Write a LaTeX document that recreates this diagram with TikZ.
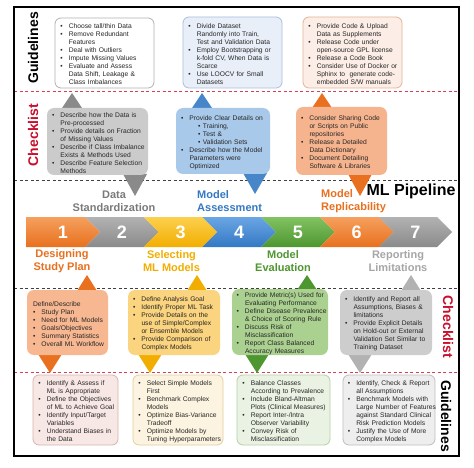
\documentclass[tikz,border=0pt]{standalone}
\usepackage{fontspec}
\setmainfont{Liberation Sans}
\definecolor{or1}{HTML}{F5A05E}\definecolor{or2}{HTML}{E8701E}
\definecolor{gr1}{HTML}{B2B2B2}\definecolor{gr2}{HTML}{8A8A8A}
\definecolor{ye1}{HTML}{FCD04E}\definecolor{ye2}{HTML}{F2AE00}
\definecolor{bl1}{HTML}{6AA6E4}\definecolor{bl2}{HTML}{3478C4}
\definecolor{gn1}{HTML}{82C262}\definecolor{gn2}{HTML}{4E9630}
\definecolor{ckred}{HTML}{C8102E}
\definecolor{txtc}{HTML}{262626}
\definecolor{g2f}{HTML}{E9EFF8}\definecolor{g2d}{HTML}{A9BFDD}
\definecolor{g3f}{HTML}{FCEEE6}\definecolor{g3d}{HTML}{E4B397}
\definecolor{h1f}{HTML}{F8E8E5}\definecolor{h1d}{HTML}{D8B4AD}
\definecolor{h2f}{HTML}{FCF4E0}\definecolor{h2d}{HTML}{E2CF9D}
\definecolor{h3f}{HTML}{EAF3E3}\definecolor{h3d}{HTML}{B5D0A2}
\definecolor{h4f}{HTML}{EEEEEE}\definecolor{h4d}{HTML}{BEBEBE}
\definecolor{c1f}{HTML}{CBCBCB}\definecolor{c2f}{HTML}{A9C9EA}\definecolor{c3f}{HTML}{F6B48E}
\definecolor{b1f}{HTML}{F7B791}\definecolor{b2f}{HTML}{FAD47E}\definecolor{b3f}{HTML}{ABD191}\definecolor{b4f}{HTML}{CDCDCD}
\newcommand\bul[1]{\par\noindent\hangindent=8.5pt\hangafter=1\makebox[8.5pt][l]{•}#1\par}
\newcommand\subbul[1]{\par\noindent\hangindent=22pt\hangafter=1\hspace*{17pt}\makebox[5pt][l]{•}#1\par}
\newcommand\plainln[1]{\par\noindent #1\par}
\begin{document}
\begin{tikzpicture}[x=1pt,y=-1pt,
  glbox/.style 2 args={draw=#2, fill=#1, rounded corners=6pt, line width=0.8pt},
  ckbox/.style={fill=#1, rounded corners=7pt, draw=none},
  txt/.style={anchor=west, text width=120pt, inner sep=0pt, align=left, text=txtc,
    font=\fontsize{6.7}{8}\selectfont},
  num/.style={text=white, font=\bfseries\fontsize{18}{18}\selectfont},
  lbl/.style={font=\bfseries\fontsize{11}{13}\selectfont, inner sep=0pt},
  side/.style={font=\bfseries\fontsize{14}{14}\selectfont, inner sep=0pt},
  reddash/.style={draw=ckred!80!white, dash pattern=on 3pt off 2.5pt, line width=0.9pt},
  blkdash/.style={draw=black!75, dash pattern=on 3pt off 2.5pt, line width=0.9pt}]
\useasboundingbox (0,0) rectangle (474,468);
\fill[white] (0,0) rectangle (474,468);

% dashed separators
\draw[reddash] (14,91) -- (459,91);
\draw[blkdash] (14,180) -- (459,180);
\draw[blkdash] (14,288) -- (459,288);
\draw[reddash] (14,372) -- (459,372);

% side labels
\node[side, rotate=90] (lg) at (33,48) {Guidelines};
\node[side, rotate=90, text=ckred] (lc) at (33,135) {Checklist};
\node[side, rotate=-90, text=ckred] (rc) at (448,327) {Checklist};
\node[side, rotate=-90] (rg) at (446,416) {Guidelines};

% top row triangles
\fill[gr2] (72,93) -- (82,108) -- (62,108) -- cycle;
\fill[bl2!90] (202,93) -- (212,108) -- (192,108) -- cycle;
\fill[or2] (322,93) -- (332,108) -- (312,108) -- cycle;
\fill[gr2] (123,174) -- (147,174) -- (135,196) -- cycle;
\fill[bl2!90] (243,173) -- (267,173) -- (255,194) -- cycle;
\fill[or2] (348,174) -- (372,174) -- (360,196) -- cycle;

% bottom row triangles
\fill[or2] (87,275) -- (97,291) -- (77,291) -- cycle;
\fill[ye2] (197,275) -- (207,291) -- (187,291) -- cycle;
\fill[gn2] (307,275) -- (317,290) -- (297,290) -- cycle;
\fill[gr1] (411,275) -- (421,291) -- (401,291) -- cycle;
\fill[or2] (38,354) -- (62,354) -- (50,373) -- cycle;
\fill[ye2] (138,354) -- (162,354) -- (150,373) -- cycle;
\fill[gn2] (245,354) -- (269,354) -- (257,373) -- cycle;
\fill[gr1] (348,354) -- (372,354) -- (360,373) -- cycle;

% top guideline boxes
\node[glbox={white}{black!30}, minimum width=99pt, minimum height=70pt] (g1) at (104.5,53) {};
\node[txt] (g1t) at ([xshift=5.5pt]g1.west) {%
\bul{Choose tall/thin Data}
\bul{Remove Redundant\newline Features}
\bul{Deal with Outliers}
\bul{Impute Missing Values}
\bul{Evaluate and Assess\newline Data Shift, Leakage \&\newline Class Imbalances}};

\node[glbox={g2f}{g2d}, minimum width=99pt, minimum height=71pt] (g2) at (232.5,52.5) {};
\node[txt] (g2t) at ([xshift=5.5pt]g2.west) {%
\bul{Divide Dataset\newline Randomly into Train,\newline Test and Validation Data}
\bul{Employ Bootstrapping or\newline k-fold CV, When Data is\newline Scarce}
\bul{Use LOOCV for Small\newline Datasets}};

\node[glbox={g3f}{g3d}, minimum width=99pt, minimum height=71pt] (g3) at (352.5,52.5) {};
\node[txt] (g3t) at ([xshift=5.5pt]g3.west) {%
\bul{Provide Code \& Upload\newline Data as Supplements}
\bul{Release Code under\newline open-source GPL license}
\bul{Release a Code Book}
\bul{Consider Use of Docker or\newline Sphinx to\ \ generate code-\newline embedded S/W manuals}};

% top checklist boxes
\node[ckbox=c1f, minimum width=101pt, minimum height=67pt] (c1) at (97.5,141.5) {};
\node[txt] (c1t) at ([xshift=5pt]c1.west) {%
\bul{Describe how the Data is\newline Pre-processed}
\bul{Provide details on Fraction\newline of Missing Values}
\bul{Describe if Class Imbalance\newline Exists \& Methods Used}
\bul{Describe Feature Selection\newline Methods}};

\node[ckbox=c2f, minimum width=94pt, minimum height=66pt] (c2) at (223,141) {};
\node[txt] (c2t) at ([xshift=5pt]c2.west) {%
\bul{Provide Clear Details on}
\subbul{Training,}
\subbul{Test \&}
\subbul{Validation Sets}
\bul{Describe how the Model\newline Parameters were\newline Optimized}};

\node[ckbox=c3f, minimum width=91pt, minimum height=68pt] (c3) at (341.5,141) {};
\node[txt] (c3t) at ([xshift=5pt]c3.west) {%
\bul{Consider Sharing Code\newline or Scripts on Public\newline repositories}
\bul{Release a Detailed\newline Data Dictionary}
\bul{Document Detailing\newline Software \& Libraries}};

% top labels
\node[lbl, align=center, text=black!52] (ds) at (114,201.5) {Data\\Standardization};
\node[lbl, align=left, anchor=west, text=bl2] (ma) at (197,201.5) {Model\\Assessment};
\node[lbl, align=left, anchor=west, text=or2] (mr) at (321,201.5) {Model\\Replicability};
\node[font=\bfseries\fontsize{16}{16}\selectfont, inner sep=0pt] (mlp) at (411,191) {ML Pipeline};

% pipeline chevrons
\foreach \k/\ct/\cb in {1/or1/or2,2/gr1/gr2,3/ye1/ye2,4/bl1/bl2,5/gn1/gn2,6/or1/or2,7/gr1/gr2}{
  \pgfmathsetmacro\tip{100+(\k-1)*58.7}
  \pgfmathsetmacro\prv{\tip-58.7}
  \ifnum\k=1
    \path[top color=\ct,bottom color=\cb] (26,217) -- (\tip-15,217) -- (\tip,232) -- (\tip-15,247) -- (26,247) -- cycle;
    \node[num] (n\k) at (63,232) {\k};
  \else
    \path[top color=\ct,bottom color=\cb] (\prv-15,217) -- (\tip-15,217) -- (\tip,232) -- (\tip-15,247) -- (\prv-15,247) -- (\prv,232) -- cycle;
    \pgfmathsetmacro\nx{(\prv+\tip)/2-7.5}
    \node[num] (n\k) at (\nx,232) {\k};
  \fi
}

% bottom labels
\node[lbl, align=center, text=or2] (dsp) at (62,261) {Designing\\Study Plan};
\node[lbl, align=center, text=ye2] (sml) at (171.5,261) {Selecting\\ML Models};
\node[lbl, align=center, text=gn2] (mev) at (283,261) {Model\\Evaluation};
\node[lbl, align=center, text=black!35] (rl) at (398,261) {Reporting\\Limitations};

% bottom checklist boxes
\node[ckbox=b1f, minimum width=81pt, minimum height=65pt] (b1) at (67.5,322.5) {};
\node[txt] (b1t) at ([xshift=6pt]b1.west) {%
\plainln{Define/Describe}
\bul{Study Plan}
\bul{Need for ML Models}
\bul{Goals/Objectives}
\bul{Summary Statistics}
\bul{Overall ML Workflow}};

\node[ckbox=b2f, minimum width=92pt, minimum height=65pt] (b2) at (174,322.5) {};
\node[txt] (b2t) at ([xshift=5pt]b2.west) {%
\bul{Define Analysis Goal}
\bul{Identify Proper ML Task}
\bul{Provide Details on the\newline use of Simple/Complex\newline or Ensemble Models}
\bul{Provide Comparison of\newline Complex Models}};

\node[ckbox=b3f, minimum width=96pt, minimum height=66pt] (b3) at (280,322) {};
\node[txt] (b3t) at ([xshift=4.5pt]b3.west) {%
\bul{Provide Metric(s) Used for\newline Evaluating Performance}
\bul{Define Disease Prevalence\newline \& Choice of Scoring Rule}
\bul{Discuss Risk of\newline Misclassification}
\bul{Report Class Balanced\newline Accuracy Measures}};

\node[ckbox=b4f, minimum width=92pt, minimum height=65pt] (b4) at (386,322.5) {};
\node[txt] (b4t) at ([xshift=5pt]b4.west) {%
\bul{Identify and Report all\newline Assumptions, Biases \&\newline limitations}
\bul{Provide Explicit Details\newline on Hold-out or External\newline Validation Set Similar to\newline Training Dataset}};

% bottom guideline boxes
\node[glbox={h1f}{h1d}, minimum width=85pt, minimum height=70pt] (h1) at (75.5,410) {};
\node[txt] (h1t) at ([xshift=5.5pt]h1.west) {%
\bul{Identify \& Assess if\newline ML is Appropriate}
\bul{Define the Objectives\newline of ML to Achieve Goal}
\bul{Identify Input/Target\newline Variables}
\bul{Understand Biases in\newline the Data}};

\node[glbox={h2f}{h2d}, minimum width=90pt, minimum height=70pt] (h2) at (178,410) {};
\node[txt] (h2t) at ([xshift=5.5pt]h2.west) {%
\bul{Select Simple Models\newline First}
\bul{Benchmark Complex\newline Models}
\bul{Optimize Bias-Variance\newline Tradeoff}
\bul{Optimize Models by\newline Tuning Hyperparameters}};

\node[glbox={h3f}{h3d}, minimum width=93pt, minimum height=70pt] (h3) at (283.5,410) {};
\node[txt] (h3t) at ([xshift=5.5pt]h3.west) {%
\bul{Balance Classes\newline According to Prevalence}
\bul{Include Bland-Altman\newline Plots (Clinical Measures)}
\bul{Report Inter-/Intra\newline Observer Variability}
\bul{Convey Risk of\newline Misclassification}};

\node[glbox={h4f}{h4d}, minimum width=92pt, minimum height=70pt] (h4) at (389,410) {};
\node[txt] (h4t) at ([xshift=5pt]h4.west) {%
\bul{Identify, Check \& Report\newline all Assumptions}
\bul{Benchmark Models with\newline Large Number of Features\newline against Standard Clinical\newline Risk Prediction Models}
\bul{Justify the Use of More\newline Complex Models}};

% outer frame
\draw[line width=1.6pt] (14,7) rectangle (459,456);
\end{tikzpicture}
\end{document}
